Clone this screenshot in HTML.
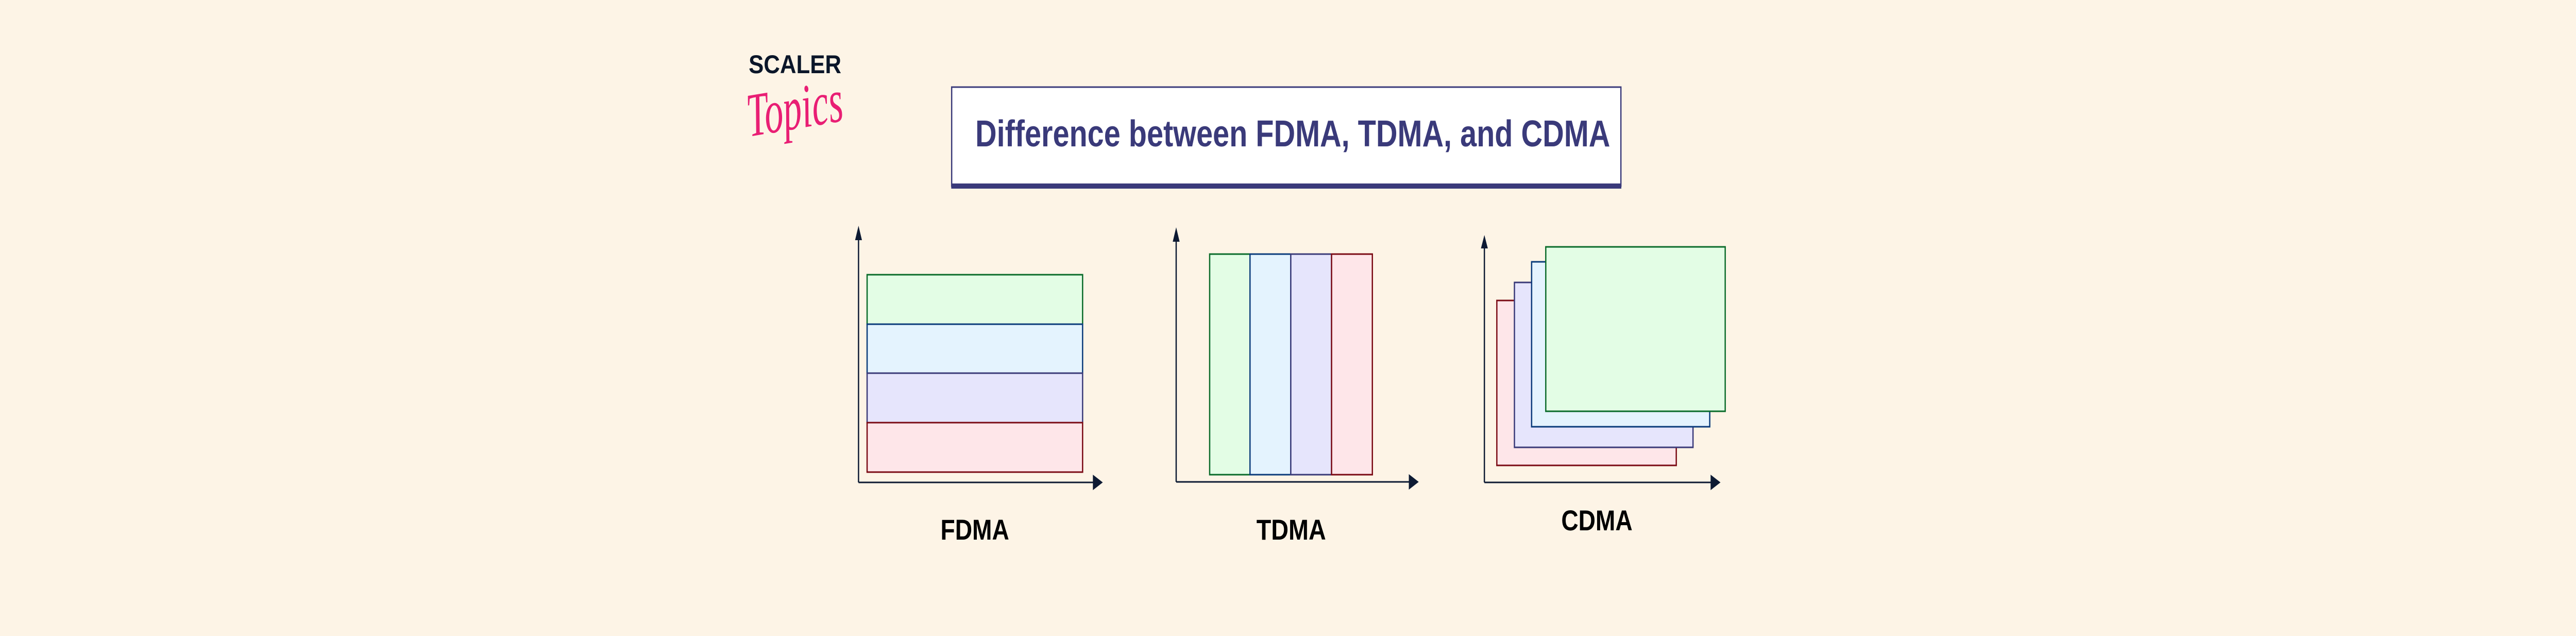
<!DOCTYPE html>
<html><head><meta charset="utf-8"><style>
html,body{margin:0;padding:0;background:#fdf4e6;width:100%;height:100%;overflow:hidden;}
svg{display:block;width:100vw;height:100vh;}
</style></head><body>
<svg viewBox="0 0 6001 1234" preserveAspectRatio="none" xmlns="http://www.w3.org/2000/svg">
<rect width="6001" height="1234" fill="#fdf4e6"/>
<!-- logo -->
<text x="1744" y="142" font-family="Liberation Sans, sans-serif" font-weight="bold" font-size="50" fill="#0b1629" textLength="216" lengthAdjust="spacingAndGlyphs">SCALER</text>
<text x="1740" y="250" font-family="Liberation Serif, serif" font-style="italic" font-size="120" fill="#e91e74" textLength="225" lengthAdjust="spacingAndGlyphs" transform="rotate(-8 1850 220)">Topics</text>
<!-- title box -->
<rect x="2217" y="169" width="1559" height="192" fill="#ffffff" stroke="#3a3a7a" stroke-width="3"/>
<rect x="2216" y="356" width="1561" height="10" fill="#3a3a7a"/>
<text x="2272" y="284" font-family="Liberation Sans, sans-serif" font-weight="bold" font-size="72" fill="#3a3a7a" textLength="1479" lengthAdjust="spacingAndGlyphs">Difference between FDMA, TDMA, and CDMA</text>
<g stroke-width="3">
<rect x="2020" y="533" width="502" height="96" fill="#e3fde5" stroke="#0a6b2a"/>
<rect x="2020" y="629" width="502" height="95" fill="#e4f3fe" stroke="#0a3b7a"/>
<rect x="2020" y="724" width="502" height="96" fill="#e6e5fc" stroke="#3a3a78"/>
<rect x="2020" y="820" width="502" height="96" fill="#fee6e9" stroke="#7a0a14"/>
<rect x="2818" y="493" width="94" height="428" fill="#e3fde5" stroke="#0a6b2a"/>
<rect x="2912" y="493" width="95" height="428" fill="#e4f3fe" stroke="#0a3b7a"/>
<rect x="3007" y="493" width="95" height="428" fill="#e6e5fc" stroke="#3a3a78"/>
<rect x="3102" y="493" width="95" height="428" fill="#fee6e9" stroke="#7a0a14"/>
<rect x="3487" y="583" width="418" height="320" fill="#fee6e9" stroke="#7a0a14"/>
<rect x="3528" y="548" width="416" height="320" fill="#e6e5fc" stroke="#3a3a78"/>
<rect x="3568" y="508" width="415" height="320" fill="#e4f3fe" stroke="#0a3b7a"/>
<rect x="3601" y="479" width="418" height="319" fill="#e3fde5" stroke="#0a6b2a"/>
</g>
<g stroke="#0d1a33" stroke-width="3" fill="#0d1a33">
<line x1="2000" y1="462" x2="2000" y2="936"/><line x1="2000" y1="936" x2="2550" y2="936"/>
<polygon points="2000,438 1992,466 2008,466" stroke="none"/><polygon points="2569,936 2546,921 2546,951" stroke="none"/>
<line x1="2740" y1="462" x2="2740" y2="935"/><line x1="2740" y1="935" x2="3285" y2="935"/>
<polygon points="2740,441 2732,469 2748,469" stroke="none"/><polygon points="3305,935 3282,920 3282,950" stroke="none"/>
<line x1="3458" y1="478" x2="3458" y2="936"/><line x1="3458" y1="936" x2="3990" y2="936"/>
<polygon points="3458,456 3450,482 3466,482" stroke="none"/><polygon points="4008,936 3985,921 3985,951" stroke="none"/>
</g>
<g font-family="Liberation Sans, sans-serif" font-weight="bold" font-size="56" fill="#000" text-anchor="middle">
<text x="2271" y="1047" textLength="160" lengthAdjust="spacingAndGlyphs">FDMA</text>
<text x="3008" y="1047" textLength="162" lengthAdjust="spacingAndGlyphs">TDMA</text>
<text x="3720" y="1029" textLength="166" lengthAdjust="spacingAndGlyphs">CDMA</text>
</g>
</svg>
</body></html>
